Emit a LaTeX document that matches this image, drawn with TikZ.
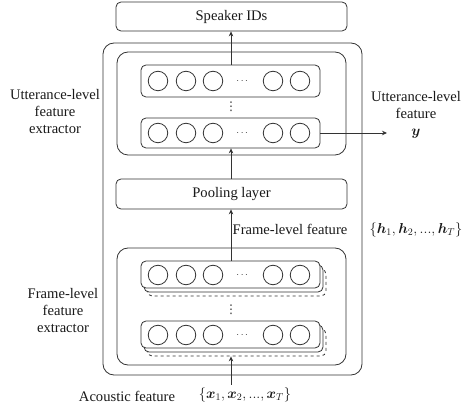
\documentclass[tikz,border=0pt]{standalone}
\usepackage{fontspec}
\setmainfont{Liberation Serif}
\newfontfamily\dejavu{DejaVu Sans}
\usepackage{amsmath,bm}
\usetikzlibrary{arrows.meta}
\begin{document}
\begin{tikzpicture}[x=1pt,y=-1pt,
  lc/.style={draw=black!80, line width=0.8pt},
  box/.style={lc, rounded corners=5pt, fill=white, inner sep=0pt},
  bigbox/.style={lc, rounded corners=11pt, inner sep=0pt},
  layer/.style={box, minimum width=179pt},
  neuron/.style={lc, circle, minimum size=19.5pt, inner sep=0pt},
  arr/.style={lc, -{Stealth[length=5pt,width=4.5pt]}},
  lbl/.style={align=center, font=\fontsize{14.6}{17}\selectfont, inner sep=0pt, text=black!90},
  vdot/.style={inner sep=0pt, font=\dejavu\fontsize{12}{12}\selectfont, text=black!80}
]
\useasboundingbox (0,0) rectangle (474,411);

% outer containers
\node[bigbox, minimum width=259pt, minimum height=332pt] (outer) at (232.5,209) {};
\node[bigbox, minimum width=229pt, minimum height=103pt] (uttbox) at (231.5,103.5) {};
\node[bigbox, minimum width=229pt, minimum height=117pt] (frmbox) at (231.5,306.5) {};

% top box
\node[box, lbl, minimum width=231pt, minimum height=29pt] (spk) at (231.5,16.5) {Speaker IDs};
% pooling
\node[box, lbl, minimum width=231pt, minimum height=30pt] (pool) at (231.5,194) {Pooling layer};

% utterance-level layers
\node[layer, minimum height=32pt] (U1) at (230.5,81) {};
\node[layer, minimum height=30pt] (U2) at (230.5,133) {};

% frame-level layers with stacked copies
\foreach \n/\yy in {F1/274.5, F2/334.5}{
  \node[layer, minimum height=27pt, dashed] (\n b) at (236.5,\yy+8) {};
  \node[layer, minimum height=27pt] (\n a) at (233.5,\yy+4) {};
  \node[layer, minimum height=27pt] (\n) at (230.5,\yy) {};
}

% neurons
\foreach \r/\yy in {U1/81, U2/133, F1/275, F2/335}{
  \foreach \i/\xx in {1/158, 2/186, 3/213, 4/273, 5/300}{
    \node[neuron] (\r n\i) at (\xx,\yy) {};
  }
  \node[inner sep=0pt, text=black!80] (\r dots) at (243,\yy) {$\cdots$};
}

% vertical dots
\node[vdot] (uvd) at (231,107) {⋮};
\node[vdot] (fvd) at (231,310) {⋮};

% labels
\node[lbl] (uxl) at (55,112) {Utterance-level\\feature\\extractor};
\node[lbl] (fxl) at (63,311) {Frame-level\\feature\\extractor};
\node[lbl] (acl) at (127,396) {Acoustic feature};
\node[lbl] (xin) at (245,395) {$\{\bm{x}_1, \bm{x}_2, ..., \bm{x}_T\}$};
\node[lbl] (ffl) at (290,229) {Frame-level feature};
\node[lbl] (hset) at (416,230) {$\{\bm{h}_1, \bm{h}_2, ..., \bm{h}_T\}$};
\node[lbl] (yl) at (416,115) {Utterance-level\\feature\\$\bm{y}$};
\coordinate (yend) at (387,133);

% connectors
\draw[arr] (U1.north -| 231,0) -- (spk.south -| 231,0);
\draw[arr] (pool.north -| 231,0) -- (U2.south -| 231,0);
\draw[arr] (F1.north -| 231,0) -- (pool.south -| 231,0);
\draw[arr] (231,385) -- (F2b.south -| 231,0);
\draw[arr] (U2.east) -- (yend);
\end{tikzpicture}
\end{document}
